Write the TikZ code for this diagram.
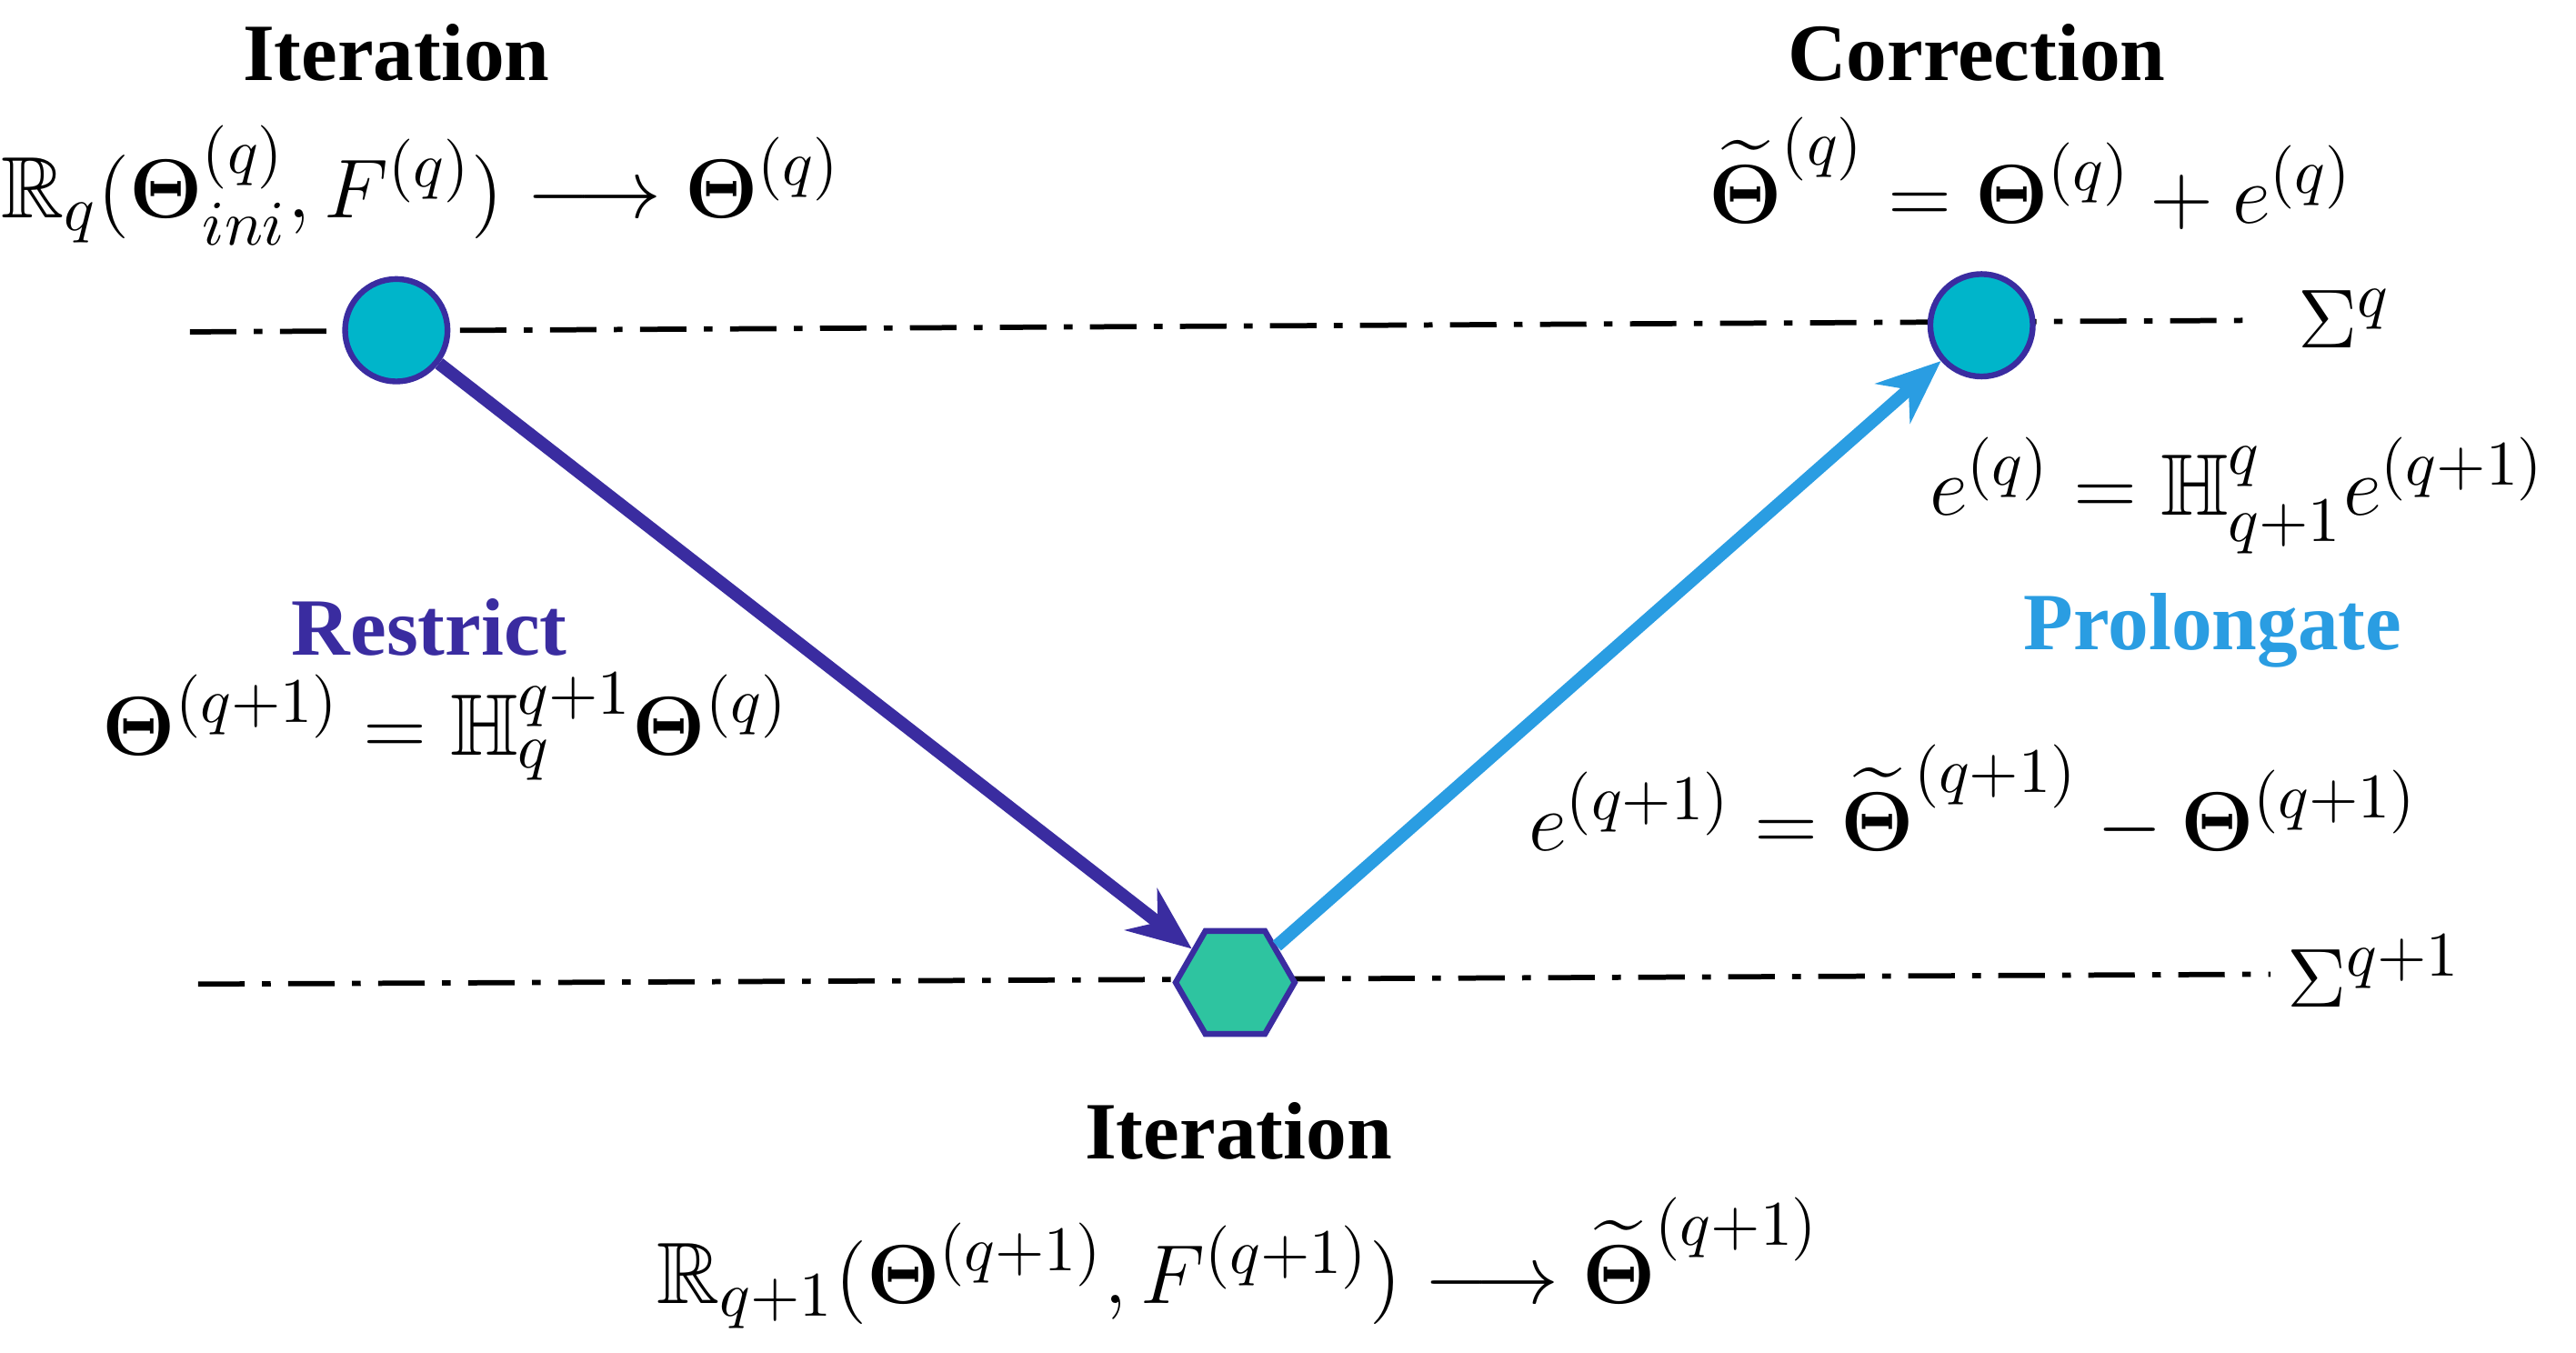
\documentclass[tikz,border=0pt]{standalone}
\usepackage{amsmath,amssymb,bm}
\usepackage{fontspec}
\setmainfont{Liberation Serif}
\usetikzlibrary{shapes.geometric,arrows.meta}
\definecolor{dblue}{HTML}{3A2CA0}
\definecolor{lblue}{HTML}{2A9DE2}
\definecolor{cyanf}{HTML}{00B5CA}
\definecolor{tealf}{HTML}{2EC4A0}
\begin{document}
\begin{tikzpicture}[x=0.01cm,y=-0.01cm,
  lbl/.style={font=\fontsize{14}{16}\selectfont\bfseries},
  eq/.style={font=\fontsize{15}{18}\selectfont},
  level/.style={dash pattern=on 8pt off 3pt on 1.5pt off 3pt,line width=0.9pt},
  dot/.style={circle,draw=dblue,line width=1pt,fill=cyanf,minimum size=0.62cm,inner sep=0},
  hexa/.style={regular polygon,regular polygon sides=6,draw=dblue,line width=1pt,fill=tealf,minimum size=0.72cm,inner sep=0},
  arr/.style={line width=2.2pt,-{Stealth[length=11pt,width=9pt]}}]
\useasboundingbox (0,0) rectangle (1560,819);
\coordinate (l1a) at (115,201); \coordinate (l1b) at (1365,194);
\coordinate (l2a) at (120,596); \coordinate (l2b) at (1375,590);
\draw[level] (l1a) -- (l1b);
\draw[level] (l2a) -- (l2b);
\node[dot] (A) at (240,200) {};
\node[dot] (B) at (1200,197) {};
\node[hexa] (H) at (748,595) {};
\draw[arr,dblue] (A) -- (H);
\draw[arr,lblue] (H) -- (B);
\node[eq] (s1) at (1420,193) {$\Sigma^q$};
\node[eq] (s2) at (1438,588) {$\Sigma^{q+1}$};
\node[lbl] (it1) at (240,32) {Iteration};
\node[eq] (f1) at (255,112) {$\mathbb{R}_q(\bm\Theta^{(q)}_{ini},F^{(q)})\longrightarrow\bm\Theta^{(q)}$};
\node[lbl] (co) at (1197,32) {Correction};
\node[eq] (f2) at (1230,105) {$\widetilde{\bm\Theta}^{(q)}=\bm\Theta^{(q)}+e^{(q)}$};
\node[lbl,text=dblue] (re) at (260,380) {Restrict};
\node[eq] (f3) at (270,440) {$\bm\Theta^{(q+1)}=\mathbb{H}_q^{q+1}\bm\Theta^{(q)}$};
\node[eq] (f4) at (1355,300) {$e^{(q)}=\mathbb{H}_{q+1}^{q}e^{(q+1)}$};
\node[lbl,text=lblue] (pr) at (1340,382) {Prolongate};
\node[eq] (f5) at (1195,485) {$e^{(q+1)}=\widetilde{\bm\Theta}^{(q+1)}-\bm\Theta^{(q+1)}$};
\node[lbl] (it2) at (750,685) {Iteration};
\node[eq] (f6) at (750,765) {$\mathbb{R}_{q+1}(\bm\Theta^{(q+1)},F^{(q+1)})\longrightarrow\widetilde{\bm\Theta}^{(q+1)}$};
\end{tikzpicture}
\end{document}
